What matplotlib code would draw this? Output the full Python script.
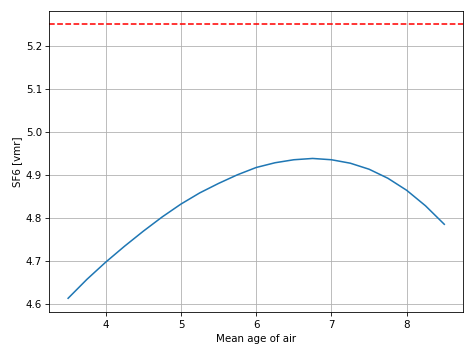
import numpy as np
import matplotlib
matplotlib.use('Agg')
import matplotlib.pyplot as plt

# mean age of air vs modelled SF6
age = [3.5, 3.75, 4.0, 4.25, 4.5, 4.75, 5.0, 5.25, 5.5, 5.75, 6.0,
       6.25, 6.5, 6.75, 7.0, 7.25, 7.5, 7.75, 8.0, 8.25, 8.5]
sf6 = [4.613, 4.657, 4.697, 4.734, 4.769, 4.802, 4.832, 4.858, 4.880, 4.900, 4.917,
       4.928, 4.935, 4.938, 4.935, 4.927, 4.913, 4.892, 4.864, 4.828, 4.785]
sf6_ref = 5.25

fig = plt.figure(figsize=(6.4, 4.8), dpi=474 / 6.4)
plt.plot(age, sf6)
plt.axhline(sf6_ref, color='r', linestyle='--')
plt.xlabel('Mean age of air')
plt.ylabel('SF6 [vmr]')
plt.grid()
plt.subplots_adjust(left=0.104, right=0.977, top=0.969, bottom=0.121)
plt.savefig('out.png')
